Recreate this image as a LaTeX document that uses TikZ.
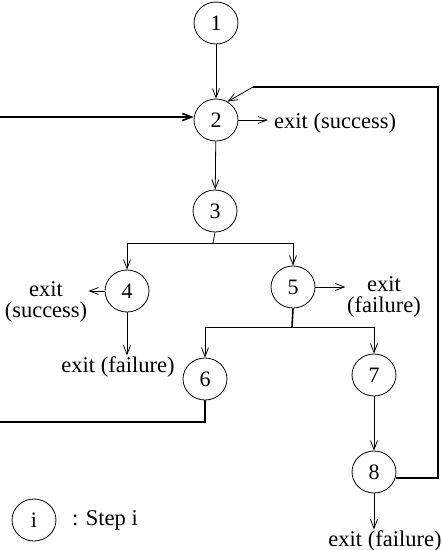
\documentclass[tikz,border=0pt]{standalone}
\usepackage{fontspec}
\setmainfont{Liberation Serif}
\usetikzlibrary{arrows.meta,shapes.geometric}
\begin{document}
\begin{tikzpicture}[x=1pt,y=-1pt,
  stepnode/.style={ellipse,draw,line width=0.8pt,minimum width=44pt,minimum height=42pt,inner sep=0pt,font=\fontsize{22}{22}\selectfont},
  lbl/.style={font=\fontsize{22.5}{21}\selectfont,inner sep=1pt,align=center},
  arr/.style={line width=0.8pt,-{Straight Barb[length=9pt,width=7pt]}},
  thin/.style={line width=0.8pt},
  thick/.style={line width=1.6pt}]
\useasboundingbox (0,0) rectangle (442,550);
\node[stepnode] (n1) at (216,23) {1};
\node[stepnode] (n2) at (216,120) {2};
\node[stepnode] (n3) at (215,211) {3};
\node[stepnode] (n4) at (127,291) {4};
\node[stepnode] (n5) at (293,287) {5};
\node[stepnode] (n6) at (205,379) {6};
\node[stepnode] (n7) at (374,375) {7};
\node[stepnode] (n8) at (374,472) {8};
\node[stepnode] (leg) at (34,520) {i};
\node[lbl,anchor=west] (legt) at (71,520) {: Step i};
% exit labels
\node[lbl,anchor=west] (e2) at (273,123) {exit (success)};
\node[lbl] (e4) at (46,302) {exit\\(success)};
\node[lbl] (e4b) at (118,367) {exit (failure)};
\node[lbl] (e5) at (384,297) {exit\\(failure)};
\node[lbl] (e8) at (385,541) {exit (failure)};
% branch coordinates
\coordinate (b3) at (213,243);
\coordinate (b5) at (292,327);
\coordinate (l2) at (0,117);
\coordinate (l6) at (0,422);
\coordinate (r8) at (438,87);
\coordinate (t8) at (253,87);
% connectors
\draw[arr] (n1) -- (n2);
\draw[arr] (n2) -- (n3);
\draw[arr,shorten >=5pt] (n2.east) -- (e2.west |- n2.east);
\draw[thin] (n3.south) -- (b3);
\draw[arr] (b3) -| (n4.north);
\draw[arr] (b3) -| (n5.north);
\draw[arr] (n4.west) -- (e4.east |- n4.west);
\draw[arr] (n4.south) -- (n4.south |- e4b.north);
\draw[arr] (n5.east) -- ++(30,0) coordinate (e5a);
\draw[thick] (n5.south) -- (b5);
\draw[arr] (b5) -| (n6.north);
\draw[arr] (b5) -| (n7.north);
\draw[arr] (n7) -- (n8);
\draw[arr] (n8.south) -- (n8.south |- e8.north);
\draw[thick] (n6.south) |- (l6);
\draw[thick,-{Straight Barb[length=9pt,width=7pt]}] (l2) -- (n2.west |- l2);
\draw[thick] (n8.-15) -- (n8.-15 -| r8) -- (r8) -- (t8);
\draw[arr] (t8) -- (n2.58);
\end{tikzpicture}
\end{document}
